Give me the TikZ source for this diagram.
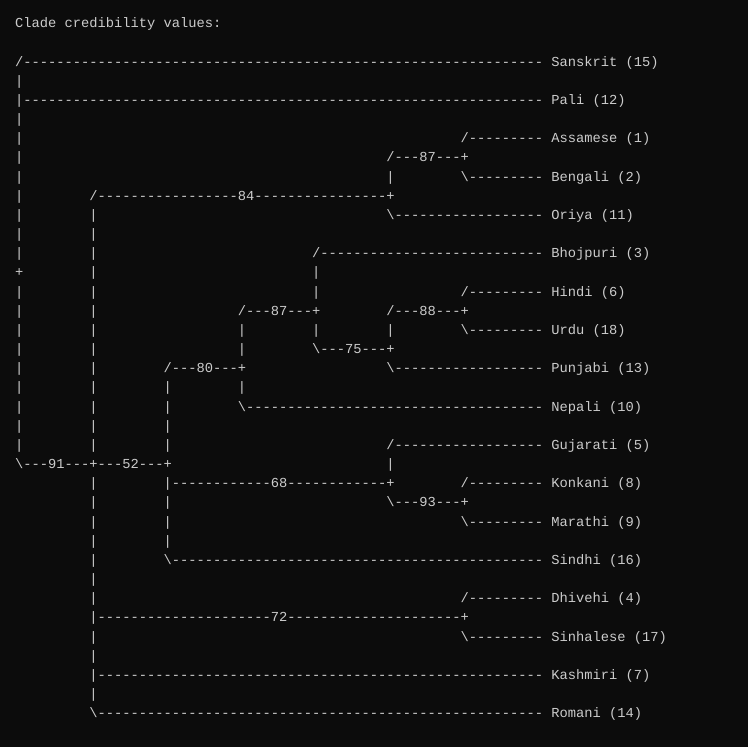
\documentclass[tikz,border=0pt]{standalone}
\usepackage{fontspec}
\setmonofont{Liberation Mono}
\definecolor{bg}{HTML}{0C0C0C}
\definecolor{fg}{HTML}{CCCCCC}
\tikzset{t/.style={anchor=base west,inner sep=0pt,text=fg,font=\ttfamily\fontsize{13.75}{14}\selectfont}}
\newcommand\C[3]{\node[t] at ({15+#1*8.25},{66+#2*19.17}) {#3};}
\newcommand\D[3]{\foreach \c in {#1,...,#2}{\node[t] at ({15+\c*8.25},{66+#3*19.17}) {-};}}
\newcommand\V[2]{\foreach \r in {#2}{\node[t] at ({15+#1*8.25},{66+\r*19.17}) {|};}}
\newcommand\B{\textbackslash}
\begin{document}
\begin{tikzpicture}[x=1pt,y=-1pt]
\fill[bg] (0,0) rectangle (748,747);
\useasboundingbox (0,0) rectangle (748,747);
\C{0}{-2}{Clade credibility values:}
% root column
\C{0}{0}{/}\D{1}{63}{0}\C{65}{0}{Sanskrit (15)}
\V{0}{1,2,...,10}
\D{1}{63}{2}\C{65}{2}{Pali (12)}
\C{0}{11}{+}
\V{0}{12,13,...,20}
% 84 clade
\C{54}{4}{/}\D{55}{63}{4}\C{65}{4}{Assamese (1)}
\C{45}{5}{/}\D{46}{48}{5}\C{49}{5}{87}\D{51}{53}{5}\C{54}{5}{+}
\V{45}{6}\C{54}{6}{\B}\D{55}{63}{6}\C{65}{6}{Bengali (2)}
\C{9}{7}{/}\D{10}{26}{7}\C{27}{7}{84}\D{29}{44}{7}\C{45}{7}{+}
\C{45}{8}{\B}\D{46}{63}{8}\C{65}{8}{Oriya (11)}
% column 9
\V{9}{8,9,...,20}
\V{9}{22,23,...,33}
\C{9}{34}{\B}\D{10}{63}{34}\C{65}{34}{Romani (14)}
% 80 clade
\C{36}{10}{/}\D{37}{63}{10}\C{65}{10}{Bhojpuri (3)}
\V{36}{11,12,14}
\C{54}{12}{/}\D{55}{63}{12}\C{65}{12}{Hindi (6)}
\C{27}{13}{/}\D{28}{30}{13}\C{31}{13}{87}\D{33}{35}{13}\C{36}{13}{+}
\C{45}{13}{/}\D{46}{48}{13}\C{49}{13}{88}\D{51}{53}{13}\C{54}{13}{+}
\V{27}{14,15,17}\V{45}{14}
\C{54}{14}{\B}\D{55}{63}{14}\C{65}{14}{Urdu (18)}
\C{36}{15}{\B}\D{37}{39}{15}\C{40}{15}{75}\D{42}{44}{15}\C{45}{15}{+}
\C{18}{16}{/}\D{19}{21}{16}\C{22}{16}{80}\D{24}{26}{16}\C{27}{16}{+}
\C{45}{16}{\B}\D{46}{63}{16}\C{65}{16}{Punjabi (13)}
\V{18}{17,18,19,20,22,23,24,25}
\C{27}{18}{\B}\D{28}{63}{18}\C{65}{18}{Nepali (10)}
% 68 clade
\C{45}{20}{/}\D{46}{63}{20}\C{65}{20}{Gujarati (5)}
\C{0}{21}{\B}\D{1}{3}{21}\C{4}{21}{91}\D{6}{8}{21}\C{9}{21}{+}\D{10}{12}{21}\C{13}{21}{52}\D{15}{17}{21}\C{18}{21}{+}
\V{45}{21}
\D{19}{30}{22}\C{31}{22}{68}\D{33}{44}{22}\C{45}{22}{+}
\C{54}{22}{/}\D{55}{63}{22}\C{65}{22}{Konkani (8)}
\C{45}{23}{\B}\D{46}{48}{23}\C{49}{23}{93}\D{51}{53}{23}\C{54}{23}{+}
\C{54}{24}{\B}\D{55}{63}{24}\C{65}{24}{Marathi (9)}
\C{18}{26}{\B}\D{19}{63}{26}\C{65}{26}{Sindhi (16)}
% 72 clade
\C{54}{28}{/}\D{55}{63}{28}\C{65}{28}{Dhivehi (4)}
\D{10}{30}{29}\C{31}{29}{72}\D{33}{53}{29}\C{54}{29}{+}
\C{54}{30}{\B}\D{55}{63}{30}\C{65}{30}{Sinhalese (17)}
\D{10}{63}{32}\C{65}{32}{Kashmiri (7)}
\end{tikzpicture}
\end{document}
